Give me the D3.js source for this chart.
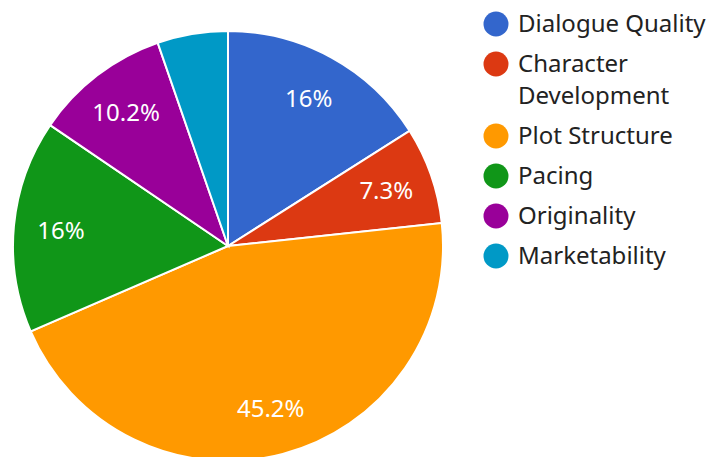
<!DOCTYPE html>
<html><head><meta charset="utf-8">
<script src="https://cdn.jsdelivr.net/npm/d3@7"></script>
<style>body{margin:0;background:#fff}svg{display:block;font-family:"Noto Sans",sans-serif}</style>
</head><body><svg id="c" width="712" height="457"></svg>
<script>
const categories = ["Dialogue Quality","Character Development","Plot Structure","Pacing","Originality","Marketability"];
const values = [16, 7.3, 45.2, 16, 10.2, 5.3];
const colors = ["#3366cc","#dc3912","#ff9900","#109618","#990099","#0099c6"];
const legendLines = [["Dialogue Quality"],["Character","Development"],["Plot Structure"],["Pacing"],["Originality"],["Marketability"]];

const svg = d3.select("#c");
const cx = 228, cy = 246, r = 215;
const total = d3.sum(values);
const pie = d3.pie().sort(null).value(d => d)(values);
const arc = d3.arc().innerRadius(0).outerRadius(r);
const g = svg.append("g").attr("transform", `translate(${cx},${cy})`);
g.selectAll("path").data(pie).join("path")
  .attr("d", arc).attr("fill", (d,i) => colors[i])
  .attr("stroke", "#fff").attr("stroke-width", 2);
const labelArc = d3.arc().innerRadius(r*0.78).outerRadius(r*0.78);
const fmt = v => { const p = Math.round(v/total*1000)/10; return (Number.isInteger(p) ? p : p.toFixed(1)) + "%"; };
g.selectAll("text").data(pie.filter(d => d.data/total >= 0.06)).join("text")
  .attr("transform", d => `translate(${labelArc.centroid(d)})`)
  .attr("text-anchor","middle").attr("dy","0.35em")
  .attr("fill","#fff").attr("font-size",24)
  .text(d => fmt(d.data));

const leg = svg.append("g");
let y = 24;
legendLines.forEach((lines, i) => {
  leg.append("circle").attr("cx", 496).attr("cy", y).attr("r", 12.5).attr("fill", colors[i]);
  lines.forEach((t, j) => {
    leg.append("text").attr("x", 518).attr("y", y + j*32).attr("dy","0.35em")
      .attr("font-size", 24).attr("fill", "#222").text(t);
  });
  y += 40 + (lines.length - 1) * 32;
});
</script></body></html>
